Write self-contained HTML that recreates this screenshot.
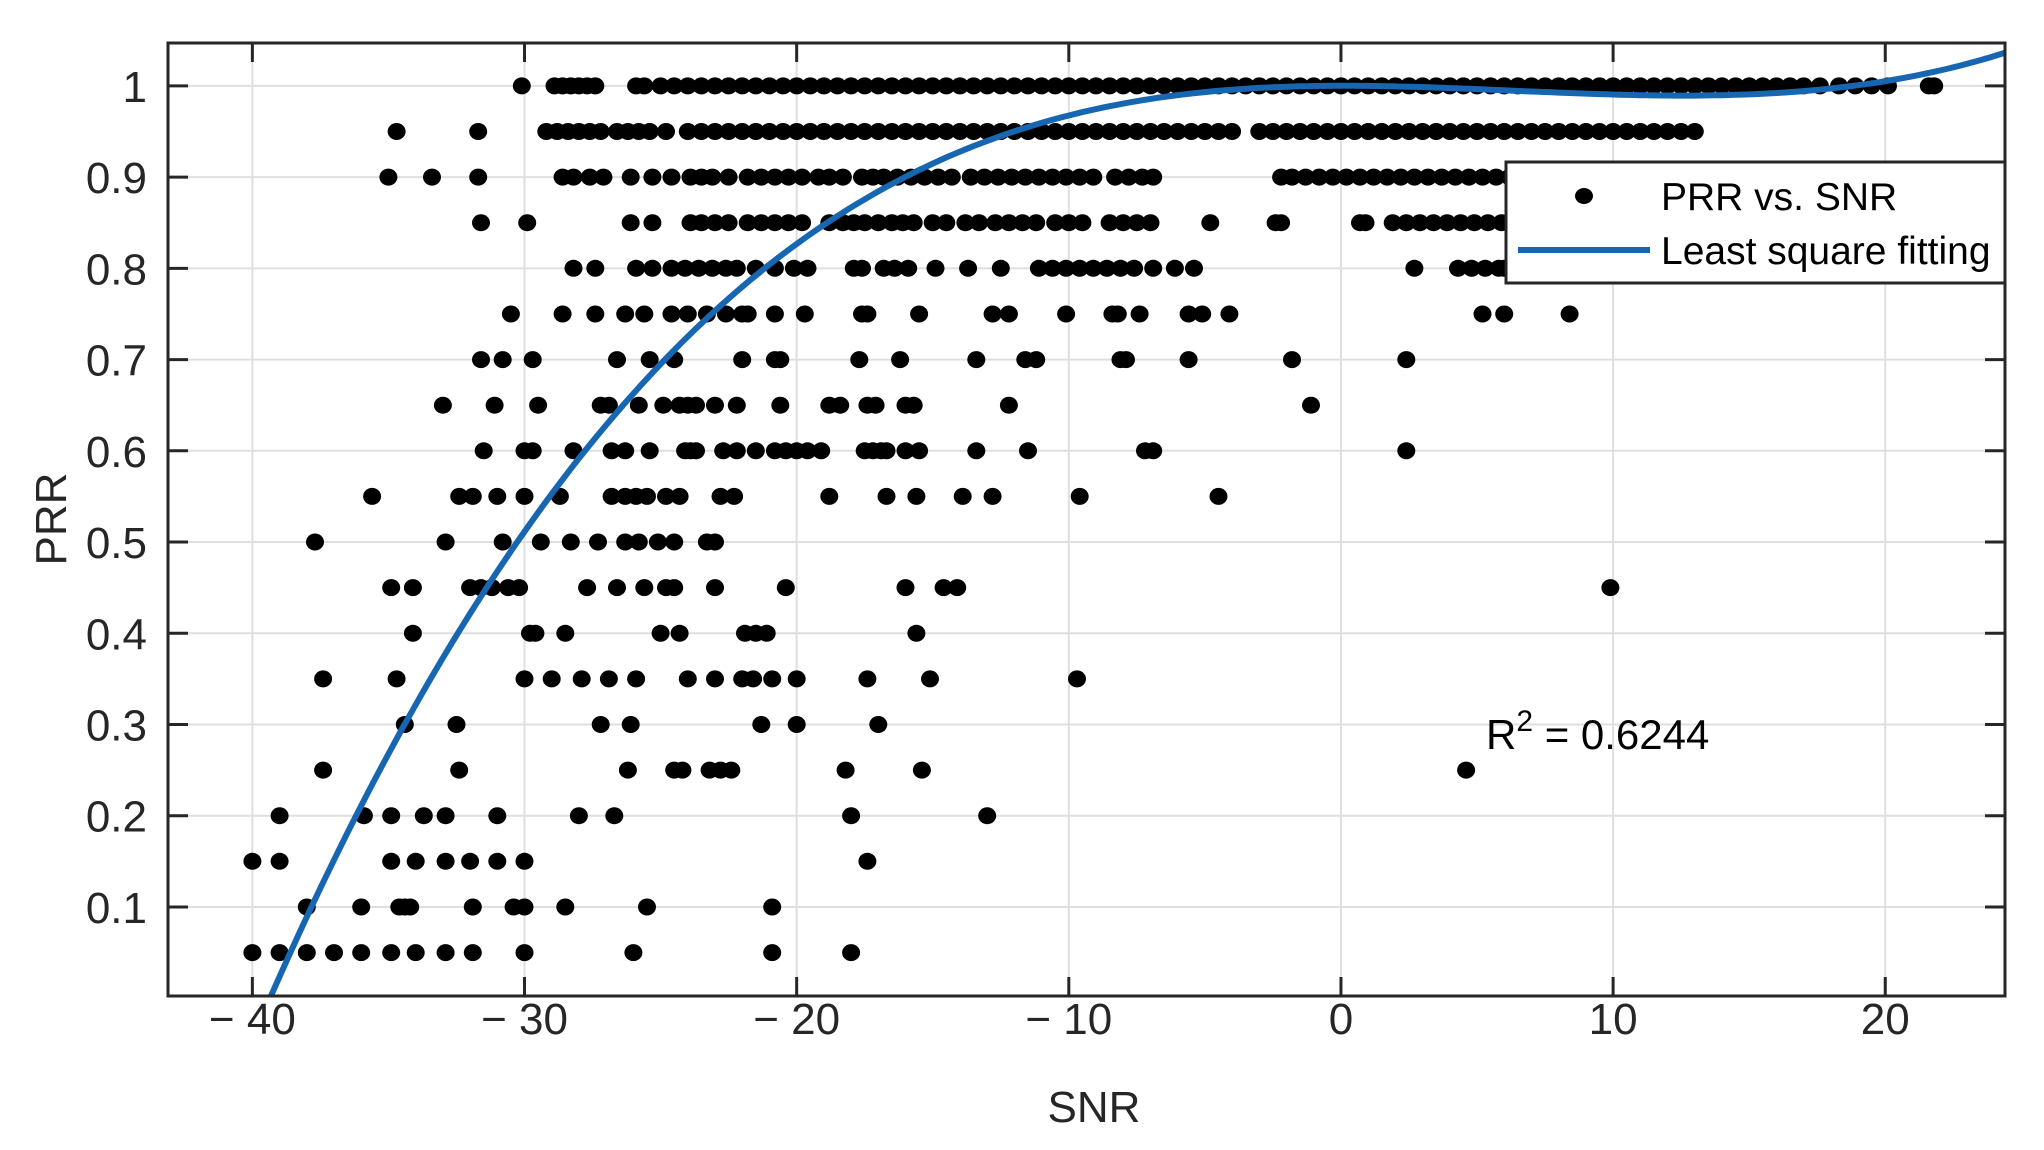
<!DOCTYPE html>
<html><head><meta charset="utf-8"><style>
html,body{margin:0;padding:0;background:#fff;}
svg{display:block;font-family:"Liberation Sans",Arial,sans-serif;}
</style></head><body>
<svg id="chart" width="2044" height="1150" viewBox="0 0 2044 1150">
<rect x="0" y="0" width="2044" height="1150" fill="#fff"/>
<g id="grid"></g>
<g id="pts"></g>
<clipPath id="clip"><rect x="168" y="43" width="1837" height="953"/></clipPath>
<path id="fit" clip-path="url(#clip)" fill="none" stroke="#1766b2" stroke-width="6"/>
<g id="axes"></g>
<text x="1094" y="1122" font-size="44" text-anchor="middle" fill="#262626">SNR</text>
<text transform="translate(66,519) rotate(-90)" font-size="44" text-anchor="middle" fill="#262626">PRR</text>
<text x="1486" y="749" font-size="42" fill="#000">R<tspan dy="-18" font-size="30">2</tspan><tspan dy="18"> = 0.6244</tspan></text>
<g>
<rect x="1506" y="162" width="499" height="121" fill="#fff" stroke="#262626" stroke-width="3"/>
<ellipse cx="1584" cy="196" rx="9" ry="8" fill="#000"/>
<text x="1661" y="210" font-size="39" fill="#000">PRR vs. SNR</text>
<line x1="1518" y1="250" x2="1650" y2="250" stroke="#1766b2" stroke-width="6"/>
<text x="1661" y="264" font-size="39" fill="#000">Least square fitting</text>
</g>
</svg>
<script>
const xTicks=[-40,-30,-20,-10,0,10,20];
const xTickLabels=["\u2212 40","\u2212 30","\u2212 20","\u2212 10","0","10","20"];
const yTicks=[0.1,0.2,0.3,0.4,0.5,0.6,0.7,0.8,0.9,1];
const yTickLabels=["0.1","0.2","0.3","0.4","0.5","0.6","0.7","0.8","0.9","1"];
const row100=[-30.1,-28.9,-28.6,-28.3,-28.0,-27.7,-27.4,-25.9,-25.6,-25,-24.5,-24,-23.5,-23,-22.5,-22,-21.5,-21,-20.5,-20,-19.5,-19,-18.5,-18,-17.5,-17,-16.5,-16,-15.5,-15,-14.5,-14,-13.5,-13,-12.5,-12,-11.5,-11,-10.5,-10,-9.5,-9,-8.5,-8,-7.5,-7,-6.5,-6,-5.5,-5,-4.5,-4,-3.5,-3,-2.5,-2,-1.5,-1,-0.5,0,0.5,1,1.5,2,2.5,3,3.5,4,4.5,5,5.5,6,6.5,7,7.5,8,8.5,9,9.5,10,10.5,11,11.5,12,12.5,13,13.5,14,14.5,15,15.5,16,16.5,17,17.6,18.3,18.9,19.5,20.1,21.6,21.8];
const row095=[-34.7,-31.7,-29.2,-28.8,-28.4,-28.0,-27.6,-27.2,-26.6,-26.2,-25.8,-25.4,-24.8,-24,-23.5,-23,-22.5,-22,-21.5,-21,-20.5,-20,-19.5,-19,-18.5,-18,-17.5,-17,-16.5,-16,-15.5,-15,-14.5,-14,-13.5,-13,-12.5,-12,-11.5,-11,-10.5,-10,-9.5,-9,-8.5,-8,-7.5,-7,-6.5,-6,-5.5,-5,-4.5,-4,-3,-2.5,-2,-1.5,-1,-0.5,0,0.5,1,1.5,2,2.5,3,3.5,4,4.5,5,5.5,6,6.5,7,7.5,8,8.5,9,9.5,10,10.5,11,11.5,12,12.5,13];
const row090=[-35,-33.4,-31.7,-28.6,-28.2,-27.6,-27.1,-26.1,-25.3,-24.6,-23.9,-23.5,-23.1,-22.5,-21.8,-21.3,-20.8,-20.3,-19.8,-19.2,-18.8,-18.3,-17.6,-17.2,-16.8,-16.3,-15.8,-15.3,-14.8,-14.3,-13.6,-13.1,-12.6,-12.1,-11.6,-11.1,-10.6,-10.1,-9.6,-9.1,-8.3,-7.8,-7.3,-6.9,-2.2,-1.8,-1.3,-0.8,-0.3,0.2,0.7,1.2,1.7,2.2,2.7,3.2,3.7,4.2,4.7,5.2,5.7,6.2,6.7,7.2,7.7,8.2,8.7,9.2,9.7,10.2];
const row085=[-31.6,-29.9,-26.1,-25.3,-23.9,-23.5,-23.0,-22.5,-21.8,-21.3,-20.8,-20.3,-19.8,-18.8,-18.3,-17.9,-17.5,-17.0,-16.5,-16.1,-15.7,-15.0,-14.5,-13.8,-13.3,-12.7,-12.2,-11.7,-11.2,-10.5,-10.0,-9.5,-8.5,-8.0,-7.5,-7.0,-4.8,-2.4,-2.2,0.7,0.9,1.9,2.4,2.9,3.4,3.9,4.4,4.9,5.4,5.9,6.4,6.9,7.2];
const row080=[-28.2,-27.4,-25.9,-25.3,-24.6,-24.1,-23.6,-23.1,-22.6,-22.2,-21.5,-20.8,-20.1,-19.6,-17.9,-17.6,-16.8,-16.4,-15.9,-14.9,-13.7,-12.5,-11.1,-10.6,-10.1,-9.6,-9.1,-8.6,-8.1,-7.6,-6.9,-6.1,-5.4,2.7,4.3,4.8,5.3,5.8,6.0,6.8,7.5];
const row075=[-30.5,-28.6,-27.4,-26.3,-25.6,-24.6,-24.0,-23.3,-22.6,-22.0,-21.8,-20.8,-19.7,-17.6,-17.4,-15.5,-12.8,-12.2,-10.1,-8.4,-8.2,-7.4,-5.6,-5.1,-4.1,5.2,6.0,8.4];
const row070=[-31.6,-30.8,-29.7,-26.6,-25.4,-24.5,-22.0,-20.8,-20.6,-17.7,-16.2,-13.4,-11.6,-11.2,-8.1,-7.9,-5.6,-1.8,2.4];
const row065=[-33.0,-31.1,-29.5,-27.2,-26.9,-25.8,-24.9,-24.3,-24.0,-23.7,-23.0,-22.2,-20.6,-18.8,-18.4,-17.4,-17.1,-16.0,-15.7,-12.2,-1.1];
const row060=[-31.5,-30.0,-29.7,-28.2,-26.8,-26.3,-25.4,-24.1,-23.9,-23.7,-22.7,-22.2,-21.5,-20.8,-20.4,-20.0,-19.6,-19.1,-17.5,-17.2,-16.9,-16.7,-16.0,-15.5,-13.4,-11.5,-7.2,-6.9,2.4];
const row055=[-35.6,-32.4,-31.9,-31.0,-30.0,-28.7,-26.8,-26.3,-25.9,-25.5,-24.8,-24.3,-22.8,-22.3,-18.8,-16.7,-15.6,-13.9,-12.8,-9.6,-4.5];
const row050=[-37.7,-32.9,-30.8,-29.4,-28.3,-27.3,-26.3,-25.8,-25.1,-24.5,-23.3,-23.0];
const row045=[-34.9,-34.1,-32.0,-31.6,-31.2,-30.6,-30.2,-27.7,-26.6,-25.6,-24.8,-24.5,-23.0,-20.4,-16.0,-14.6,-14.1,9.9];
const row040=[-34.1,-29.8,-29.6,-28.5,-25.0,-24.3,-21.9,-21.5,-21.1,-15.6];
const row035=[-37.4,-34.7,-30.0,-29.0,-27.9,-26.9,-25.9,-24.0,-23.0,-22.0,-21.6,-20.9,-20.0,-17.4,-15.1,-9.7];
const row030=[-34.4,-32.5,-27.2,-26.1,-21.3,-20.0,-17.0];
const row025=[-37.4,-32.4,-26.2,-24.5,-24.2,-23.2,-22.8,-22.4,-18.2,-15.4,4.6];
const row020=[-39.0,-35.9,-34.9,-33.7,-32.9,-31.0,-28.0,-26.7,-18.0,-13.0];
const row015=[-40.0,-39.0,-34.9,-34.0,-32.9,-32.0,-31.0,-30.0,-17.4];
const row010=[-38.0,-36.0,-34.6,-34.4,-34.2,-31.9,-30.4,-30.0,-28.5,-25.5,-20.9];
const row005=[-40.0,-39.0,-38.0,-37.0,-36.0,-34.9,-34.0,-32.9,-31.9,-30.0,-26.0,-20.9,-18.0];
const prrLevels=[1,0.95,0.9,0.85,0.8,0.75,0.7,0.65,0.6,0.55,0.5,0.45,0.4,0.35,0.3,0.25,0.2,0.15,0.1,0.05];
const snrRows=[row100,row095,row090,row085,row080,row075,row070,row065,row060,row055,row050,row045,row040,row035,row030,row025,row020,row015,row010,row005];
// anchor values
const fitAnchorX=[-39.4,-35.9,-31.7,-30,-24.7,-18.4,-10.7,0.9,13,24.9];
const fitAnchorY=[0.004,0.2,0.448,0.509,0.705,0.86,0.96,1.0,0.99,1.041];

const X0=168,X1=2005,Y0=43,Y1=996;
const XMIN=-43.1,XMAX=24.4,YMIN=0.0024,YMAX=1.047;
function sx(v){return X0+(v-XMIN)/(XMAX-XMIN)*(X1-X0);}
function sy(v){return Y1-(v-YMIN)/(YMAX-YMIN)*(Y1-Y0);}
const NS="http://www.w3.org/2000/svg";
function mk(tag,attrs,parent){const e=document.createElementNS(NS,tag);for(const k in attrs)e.setAttribute(k,attrs[k]);parent.appendChild(e);return e;}
const grid=document.getElementById('grid');
xTicks.forEach(t=>{
  const l=mk('line',{x1:sx(t),x2:sx(t),y1:Y0,y2:Y1,stroke:'#dfdfdf','stroke-width':2},grid);
  
  
});
yTicks.forEach(t=>{
  const l=mk('line',{x1:X0,x2:X1,y1:sy(t),y2:sy(t),stroke:'#dfdfdf','stroke-width':2},grid);
  
  
});
const pts=document.getElementById('pts');
snrRows.forEach((row,i)=>{
  row.forEach(v=>{
    const c=mk('ellipse',{cx:sx(v).toFixed(1),cy:sy(prrLevels[i]).toFixed(1),rx:9,ry:8.5,fill:'#000'},pts);
    
    
  });
});
(function(){
  const n=4,A=[],B=[];
  for(let i=0;i<n;i++){A.push(new Array(n).fill(0));B.push(0);}
  fitAnchorX.forEach((x,k)=>{const y=fitAnchorY[k];for(let i=0;i<n;i++){for(let j=0;j<n;j++)A[i][j]+=Math.pow(x,i+j);B[i]+=Math.pow(x,i)*y;}});
  for(let i=0;i<n;i++){let p=i;for(let r=i+1;r<n;r++)if(Math.abs(A[r][i])>Math.abs(A[p][i]))p=r;[A[i],A[p]]=[A[p],A[i]];[B[i],B[p]]=[B[p],B[i]];
    for(let r=0;r<n;r++){if(r===i)continue;const f=A[r][i]/A[i][i];for(let c=i;c<n;c++)A[r][c]-=f*A[i][c];B[r]-=f*B[i];}}
  const co=B.map((b,i)=>b/A[i][i]);
  let d='';
  for(let x=-41;x<=25.5;x+=0.25){const y=co[0]+co[1]*x+co[2]*x*x+co[3]*x*x*x;d+=(d?'L':'M')+sx(x).toFixed(1)+','+sy(y).toFixed(1);}
  document.getElementById('fit').setAttribute('d',d);
})();
const axes=document.getElementById('axes');
const frame=mk('rect',{x:X0,y:Y0,width:X1-X0,height:Y1-Y0,fill:'none',stroke:'#262626','stroke-width':3},axes);


xTicks.forEach((t,i)=>{
  const a=mk('line',{x1:sx(t),x2:sx(t),y1:Y1,y2:Y1-19,stroke:'#262626','stroke-width':3},axes);
  
  
  const b=mk('line',{x1:sx(t),x2:sx(t),y1:Y0,y2:Y0+19,stroke:'#262626','stroke-width':3},axes);
  
  
  const tx=mk('text',{x:sx(t),y:1034,'font-size':44,'text-anchor':'middle',fill:'#262626'},axes);
  tx.textContent=xTickLabels[i];
  
  
});
yTicks.forEach((t,i)=>{
  const a=mk('line',{x1:X0,x2:X0+20,y1:sy(t),y2:sy(t),stroke:'#262626','stroke-width':3},axes);
  
  
  const b=mk('line',{x1:X1,x2:X1-20,y1:sy(t),y2:sy(t),stroke:'#262626','stroke-width':3},axes);
  
  
  const tx=mk('text',{x:147,y:sy(t)+16,'font-size':44,'text-anchor':'end',fill:'#262626'},axes);
  tx.textContent=yTickLabels[i];
  
  
});
</script>
</body></html>
